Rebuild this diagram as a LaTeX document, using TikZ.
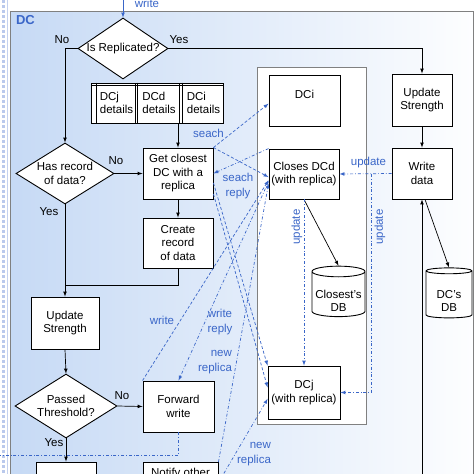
\documentclass[tikz,border=0pt]{standalone}
\usepackage{fontspec}
\setmainfont{Liberation Sans}
\usetikzlibrary{shapes}
\usetikzlibrary{arrows}

\definecolor{dcblue}{HTML}{3A66C8}
\definecolor{dcback}{HTML}{BCD3F3}
\definecolor{dcgray}{HTML}{808080}

\begin{document}
\begin{tikzpicture}[x=1pt,y=-1pt]
	\tikzstyle{every node}=[font=\fontsize{11.5}{13.5}\selectfont]
	\tikzstyle{box}=[rectangle,draw,line width=0.9pt,fill=white,align=center,inner sep=2pt]
	\tikzstyle{dia}=[diamond,draw,line width=0.9pt,fill=white,inner sep=0pt]
	\tikzstyle{db}=[cylinder,shape border rotate=90,draw,line width=0.9pt,fill=white,aspect=0.22,align=center,inner sep=1pt]
	\tikzstyle{cell}=[rectangle,draw,line width=0.9pt,fill=white,align=left,minimum width=44pt,minimum height=40pt,inner sep=0pt]
	\tikzstyle{flow}=[->,>=latex,line width=0.7pt]
	\tikzstyle{msg}=[->,>=latex,dcblue,line width=0.7pt,dash pattern=on 3pt off 2pt]
	\tikzstyle{rmsg}=[->,>=latex,dcblue,line width=0.7pt,dash dot]
	\tikzstyle{lab}=[inner sep=0pt]
	\tikzstyle{blab}=[inner sep=0pt,text=dcblue,align=right,font=\fontsize{11.5}{14.5}\selectfont]

	\useasboundingbox (0,0) rectangle (474,474);
	\clip (0,0) rectangle (474,474);

	% DC area
	\fill[left color=dcback!85,middle color=dcback,right color=white] (10,11) rectangle (490,480);
	\draw[dcgray] (10,480) -- (10,11) -- (473,11) -- (473,480);
	\draw[dcblue!35,line width=3pt,dotted] (3,0) -- (3,474);
	\draw[dcblue!30] (7.5,0) -- (7.5,474);
	\node[lab,text=dcblue,font=\fontsize{13}{15}\bfseries] (dcname) at (25.5,20) {DC};

	\node[draw=dcgray,fill=white,minimum width=109pt,minimum height=357pt,inner sep=0pt] (pnl) at (311.5,245.5) {};

	% left flow
	\node[dia,minimum width=90pt,minimum height=61pt,label=center:Is Replicated?] (isrep) at (123,48.5) {};
	\node[cell] (dtj) at (113.5,103) {\hspace{6pt}DCj\\\hspace{6pt}details};
	\node[cell] (dtd) at (157,103) {\hspace{4pt}DCd\\\hspace{4pt}details};
	\node[cell] (dti) at (201.5,103) {\hspace{4pt}DCi\\\hspace{4pt}details};
	\draw[line width=0.9pt] ([xshift=5pt]dtj.north west) -- ([xshift=5pt]dtj.south west);
	\draw[line width=0.9pt] ([xshift=3pt]dtd.north west) -- ([xshift=3pt]dtd.south west);
	\draw[line width=0.9pt] ([xshift=3pt]dti.north west) -- ([xshift=3pt]dti.south west);
	\draw[line width=0.9pt] ([yshift=-2.5pt]dtj.north west) -- ([yshift=-2.5pt]dti.north east);

	\node[dia,minimum width=98pt,minimum height=61pt,label={[align=center]center:Has record\\of data?}] (hasrec) at (65,173.5) {};
	\node[box,minimum width=70pt,minimum height=51pt] (getcl) at (178,173.5) {Get closest\\DC with a\\replica};
	\node[box,minimum width=70pt,minimum height=50pt] (mkrec) at (178,243) {Create\\record\\of data};
	\node[box,minimum width=68pt,minimum height=52pt] (updl) at (65,323) {Update\\Strength};
	\node[dia,minimum width=102pt,minimum height=64pt,label={[align=center]center:Passed\\Threshold?}] (thr) at (66,406) {};
	\node[box,minimum width=71pt,minimum height=51pt] (fwd) at (178.5,406.5) {Forward\\write};
	\node[box,minimum width=60pt,minimum height=50pt] (yesbox) at (66,487) {};
	\node[box,minimum width=75pt,text height=12pt,text depth=34pt,anchor=north] (notify) at (180.5,462) {Notify other};

	% other DCs
	\node[box,minimum width=71pt,minimum height=51pt,text height=8pt,text depth=13pt] (dci) at (304.5,100.5) {DCi};
	\node[box,minimum width=70pt,minimum height=50pt] (clsd) at (304,174) {Closes DCd\\(with replica)};
	\node[db,minimum width=53pt,minimum height=50pt] (cdb) at (338.5,295) {\rule{0pt}{20pt}Closest's\\DB};
	\node[box,minimum width=72pt,minimum height=53pt] (dcj) at (304,392.5) {DCj\\(with replica)};

	% right column
	\node[box,minimum width=60pt,minimum height=52pt] (updr) at (422,100) {Update\\Strength};
	\node[box,minimum width=60pt,minimum height=51pt] (wrd) at (422,173.5) {Write\\data};
	\node[db,minimum width=46pt,minimum height=50pt] (ddb) at (449,295) {\rule{0pt}{20pt}DC's\\DB};

	\coordinate (topin) at (123,-4);
	\coordinate (jn) at (65,285);
	\coordinate (lft) at (-2,455);
	\coordinate (updj) at (371,174);
	\coordinate (wdin) at (422,480);
	\coordinate (nrb) at (220,480);

	% flow lines
	\draw[->,>=latex,dcblue,line width=0.7pt] (topin) -- (isrep.north);
	\draw[flow] (isrep.west) -| (hasrec.north);
	\draw[flow] (isrep.east) -| (updr.north);
	\draw[flow] (getcl.north |- dtd.south) -- (getcl.north);
	\draw[flow] (hasrec.east) -- (getcl.west);
	\draw[flow] (getcl.south) -- (mkrec.north);
	\draw[line width=0.7pt] (mkrec.south) |- (jn);
	\draw[flow] (hasrec.south) -- (updl.north);
	\draw[flow] (updl.south) -- (thr.north);
	\draw[flow] (thr.east) -- (fwd.west);
	\draw[flow] (thr.south) -- (yesbox.north);
	\draw[flow] (updr.south) -- (wrd.north);
	\draw[flow] (wdin) -- (wrd.south);
	\draw[flow] ([xshift=3pt]wrd.south) -- (ddb.north);
	\draw[flow] (clsd.south) -- (cdb.north);

	% messages
	\draw[msg] (getcl.north east) -- (dci.185);
	\draw[msg] (getcl.north east) -- (clsd.185);
	\draw[rmsg] (clsd.north west) -- (getcl.east);
	\draw[msg] (fwd.north west) -- (clsd.190);
	\draw[rmsg] (clsd.192) -- (fwd.north);
	\draw[rmsg] (notify.north east) -- (clsd.195);
	\draw[msg] (getcl.345) -- (dcj.north west);
	\draw[msg] (getcl.330) -- (dcj.172);
	\draw[rmsg] (nrb) -- (dcj.190);
	\draw[dcblue,line width=0.7pt,dash dot] (fwd.south) |- (lft);
	\draw[rmsg] (wrd.west) -- (clsd.east);
	\draw[rmsg] (updj) |- (dcj.east);
	\draw[rmsg] (clsd.south) -- (dcj.north);

	% labels
	\node[lab,text=dcblue] (lwrite) at (147,3) {write};
	\node[lab] (lno1) at (62,40) {No};
	\node[lab] (lyes1) at (179,40) {Yes};
	\node[lab] (lno2) at (116,161) {No};
	\node[lab] (lyes2) at (49,212) {Yes};
	\node[lab] (lno3) at (122,396) {No};
	\node[lab] (lyes3) at (54,443) {Yes};
	\node[blab] (lseach) at (208.5,133) {seach};
	\node[blab,align=center] (lsrep) at (238,186) {seach\\reply};
	\node[blab] (lupd1) at (368.5,163) {update};
	\node[blab,rotate=90] (lupd2) at (297,227) {update};
	\node[blab,rotate=90] (lupd3) at (380,227) {update};
	\node[blab] (lwr) at (162,320) {write};
	\node[blab,align=center] (lwrep) at (220,322) {write\\reply};
	\node[blab] (lnew1) at (215,362) {new\\replica};
	\node[blab] (lnew2) at (254,454) {new\\replica};
\end{tikzpicture}
\end{document}
